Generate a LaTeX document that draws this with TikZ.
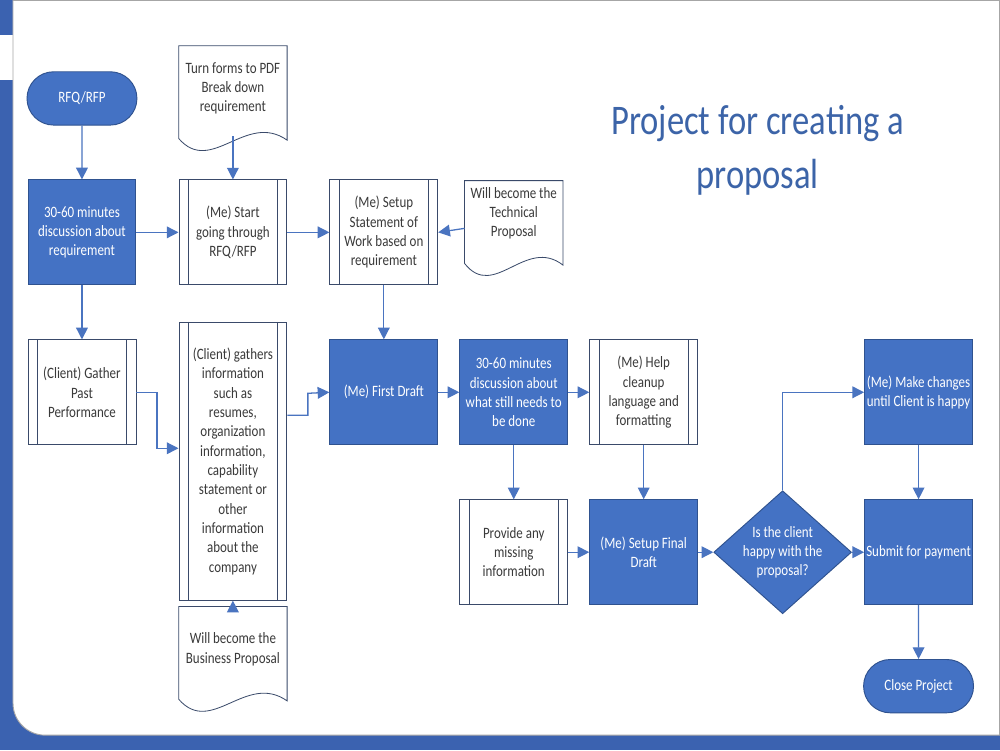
\documentclass[tikz,border=0pt]{standalone}
\usepackage{fontspec}
\setmainfont{Carlito}[FakeStretch=0.82]
\usetikzlibrary{shapes.geometric,shapes.misc,arrows.meta,calc}
\definecolor{fillb}{HTML}{4472C4}
\definecolor{edgeb}{HTML}{2F528F}
\definecolor{arr}{HTML}{4A74C0}
\definecolor{txt}{HTML}{3A3A3A}
\definecolor{titleb}{HTML}{3C64A8}
\definecolor{bgb}{HTML}{3B62B0}
\definecolor{lineb}{HTML}{3A4A6A}
\newcommand{\predlines}[1]{%
  \draw[draw=lineb, line width=0.7pt] ($(#1.north west)+(0.3cm,0)$) -- ($(#1.south west)+(0.3cm,0)$)
    ($(#1.north east)+(-0.3cm,0)$) -- ($(#1.south east)+(-0.3cm,0)$);}
\newcommand{\mydoc}[3]{%
  \draw[draw=lineb, fill=white, line width=0.7pt]
   (#1.north west) -- ($(#1.south west)+(0,0.38cm)$)
   .. controls ($(#1.south west)!0.3!(#1.south east)+(0,-0.75cm)$) and ($(#1.south west)!0.62!(#1.south east)+(0,1.2cm)$) .. ($(#1.south east)+(0,0.33cm)$)
   -- (#1.north east) -- cycle;
  \node[text=txt] (#1t) at ($(#1.center)+(0,#2)$) {#3};}
\begin{document}
\begin{tikzpicture}[x=0.03cm,y=-0.03cm,
  every node/.style={font=\fontsize{13.5}{16.5}\selectfont, align=center, inner sep=0pt},
  filled/.style={rectangle, draw=edgeb, fill=fillb, text=white, minimum width=3.24cm, minimum height=3.15cm, line width=0.8pt},
  term/.style={rounded rectangle, draw=edgeb, fill=fillb, text=white, minimum width=3.3cm, minimum height=1.6cm, line width=0.8pt},
  pred/.style={rectangle, draw=lineb, fill=white, text=txt, minimum width=3.24cm, minimum height=3.15cm, line width=0.7pt},
  doc/.style={rectangle, text=txt, minimum width=3.24cm, minimum height=3.15cm},
  con/.style={draw=arr, line width=1.1pt, -{Triangle[length=10pt,width=10pt]}}
]
% background
\fill[bgb] (0,0) rectangle (1000,750);
\fill[white] (0,35) rectangle (13,80);
\draw[fill=white, draw=gray!70, line width=0.8pt] (13,0) -- (1000,0) -- (1000,735) -- (45,735) arc[start angle=270,end angle=180,radius=0.96cm] -- cycle;

% title
\node[text=titleb, font=\fontsize{36}{46}\selectfont] (title) at (758,150) {Project for creating a\\proposal};

% nodes
\node[term] (rfq) at (82,98) {RFQ/RFP};
\node[filled] (d1) at (82,232) {30-60 minutes\\discussion about\\requirement};
\node[pred] (start) at (233,232) {(Me) Start\\going through\\RFQ/RFP};
\node[pred] (sow) at (384,232) {(Me) Setup\\Statement of\\Work based on\\requirement};
\node[doc, minimum width=2.94cm, minimum height=2.85cm] (tech) at (514,228) {};
\node[pred] (past) at (82,392) {(Client) Gather\\Past\\Performance};
\node[pred, minimum height=8.34cm] (info) at (233,461) {(Client) gathers\\information\\such as\\resumes,\\organization\\information,\\capability\\statement or\\other\\information\\about the\\company};
\node[doc] (bus) at (233,659) {};
\node[doc] (pdf) at (233,98) {};
\node[filled] (first) at (384,392) {(Me) First Draft};
\node[filled] (d2) at (514,392) {30-60 minutes\\discussion about\\what still needs to\\be done};
\node[pred] (help) at (644,392) {(Me) Help\\cleanup\\language and\\formatting};
\node[pred] (miss) at (514,552) {Provide any\\missing\\information};
\node[filled] (final) at (644,552) {(Me) Setup Final\\Draft};
\node[diamond, draw=edgeb, fill=fillb, text=white, minimum width=3.3cm, minimum height=2.95cm, aspect=1.12, line width=0.8pt] (happy) at (783,552) {Is the client\\happy with the\\proposal?};
\node[filled] (make) at (919,392) {(Me) Make changes\\until Client is happy};
\node[filled] (submit) at (919,552) {Submit for payment};
\node[term] (close) at (919,686) {Close Project};

\predlines{start}\predlines{sow}\predlines{past}\predlines{info}\predlines{help}\predlines{miss}

% document shapes
\mydoc{pdf}{0.3cm}{Turn forms to PDF\\Break down\\requirement}
\mydoc{tech}{0.45cm}{Will become the\\Technical\\Proposal}
\mydoc{bus}{0.3cm}{Will become the\\Business Proposal}

% connectors
\draw[con] ($(pdf.south)+(0,0.45cm)$) -- (start);
\draw[con] (rfq) -- (d1);
\draw[con] (d1) -- (start);
\draw[con] (start) -- (sow);
\draw[con] (tech.west) -- (sow.east);
\draw[con] (sow) -- (first);
\draw[con] (d1) -- (past);
\draw[con] (past.east) -| (157,448) -- (info.west |- 0,448);
\draw[con] (info.east |- 0,415) -| (308,393) -- (first.west);
\draw[con] (bus.north) -- (info.south);
\draw[con] (first) -- (d2);
\draw[con] (d2) -- (help);
\draw[con] (d2) -- (miss);
\draw[con] (help) -- (final);
\draw[con] (miss) -- (final);
\draw[con] (final) -- (happy);
\draw[con] (happy) -- (submit);
\draw[con] (happy.north) |- (make.west);
\draw[con] (make) -- (submit);
\draw[con] (submit) -- (close);
\end{tikzpicture}
\end{document}
